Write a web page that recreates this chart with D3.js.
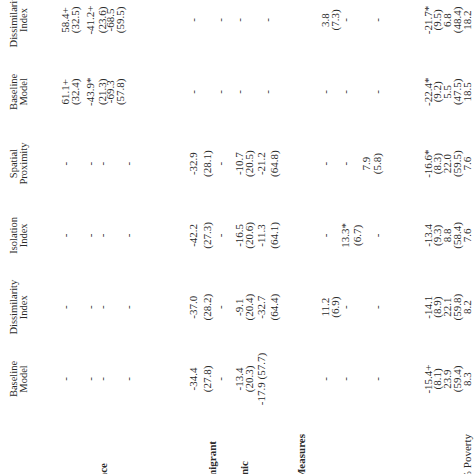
<!DOCTYPE html>
<html>
<head>
<meta charset="utf-8">
<script src="https://cdn.jsdelivr.net/npm/d3@7"></script>
<style>
  body { margin: 0; background: #fff; }
  text { font-family: "Liberation Serif", "DejaVu Serif", serif; fill: #2a2a2a; }
</style>
</head>
<body>
<svg width="474" height="474"></svg>
<script>
// table is printed sideways: columns run bottom to top, rows run left to right
var headers = [["Baseline", "Model"], ["Dissimilarity", "Index"], ["Isolation", "Index"],
    ["Spatial", "Proximity"], ["Baseline", "Model"], ["Dissimilarity", "Index"]];

// line number of each printed row, and its cells (null = empty)
var lines = [0, 1, 2.5, 3.7, 4.5, 5.5, 6.3,
    12.8, 14.2, 15.5, 17.4, 18.4, 19.6, 20.2, 20.9,
    26, 27, 28, 29.2, 30.1, 31.2,
    36.3, 37.2, 38.2, 39.2, 40.2];
var cells = [
    ["-", "-", "-", "-", "61.1+", "58.4+"],
    [null, null, null, null, "(32.4)", "(32.5)"],
    ["-", "-", "-", "-", "-43.9*", "-41.2+"],
    ["-", "-", "-", "-", "(21.3)", "(23.6)"],
    [null, null, null, null, "-69.3", "-68.5"],
    [null, null, null, null, "(57.8)", "(59.5)"],
    ["-", "-", "-", "-", null, null],
    ["-34.4", "-37.0", "-42.2", "-32.9", "-", "-"],
    ["(27.8)", "(28.2)", "(27.3)", "(28.1)", null, null],
    ["-", "-", "-", "-", "-", "-"],
    ["-13.4", "-9.1", "-16.5", "-10.7", "-", "-"],
    ["(20.3)", "(20.4)", "(20.6)", "(20.5)", null, null],
    ["-17.9  (57.7)", "-32.7", "-11.3", "-21.2", null, null],
    [null, null, null, null, "-", "-"],
    [null, "(64.4)", "(64.1)", "(64.8)", null, null],
    ["-", "11.2", "-", "-", "-", "3.8"],
    [null, "(6.9)", null, null, null, "(7.3)"],
    ["-", "-", "13.3*", "-", "-", "-"],
    [null, null, "(6.7)", null, null, null],
    [null, null, null, "7.9", null, null],
    ["-", "-", "-", "(5.8)", "-", "-"],
    ["-15.4+", "-14.1", "-13.4", "-16.6*", "-22.4*", "-21.7*"],
    ["(8.1)", "(8.9)", "(9.3)", "(8.3)", "(9.2)", "(9.5)"],
    ["23.9", "22.1", "8.8", "22.0", "5.5", "6.8"],
    ["(59.4)", "(59.8)", "(58.4)", "(59.5)", "(47.5)", "(48.4)"],
    ["8.3", "8.2", "7.6", "7.6", "18.5", "18.2"]
];

var rowLabels = ["Race", "Immigrant", "Hispanic", "Segregation Measures", "% Poverty"];
var rowLabelLines = [3.8, 14.7, 17.9, 23.6, 40.2];
var rowLabelBold = [true, true, true, true, false];

var svg = d3.select('svg');

var x = d3.scaleLinear().domain([0, 40.2]).range([65, 467]);
var y = d3.scalePoint().domain(d3.range(headers.length)).range([379, 20]);

function rotText(px, py) { return 'translate(' + px + ',' + py + ') rotate(-90)'; }

// column headers
headers.forEach(function(h, c) {
    h.forEach(function(t, k) {
        svg.append('text')
            .attr('transform', rotText(13 + k * 10, y(c)))
            .attr('text-anchor', 'middle')
            .attr('dominant-baseline', 'central')
            .style('font-size', '10.5px')
            .text(t);
    });
});

// body cells
var flat = [];
cells.forEach(function(row, r) {
    row.forEach(function(v, c) {
        if (v !== null) flat.push({ line: lines[r], col: c, text: v });
    });
});

svg.selectAll('text.cell')
    .data(flat)
    .enter().append('text')
    .attr('class', 'cell')
    .attr('transform', function(d) { return rotText(x(d.line), y(d.col)); })
    .attr('text-anchor', 'middle')
    .attr('dominant-baseline', 'central')
    .style('font-size', '11px')
    .text(function(d) { return d.text; });

// row labels, they run off the bottom edge
var labelEnd = [463, 441, 461, 434, 434];
svg.selectAll('text.lab')
    .data(rowLabels)
    .enter().append('text')
    .attr('class', 'lab')
    .attr('transform', function(d, i) { return rotText(x(rowLabelLines[i]), labelEnd[i]); })
    .attr('text-anchor', 'end')
    .attr('dominant-baseline', 'central')
    .style('font-size', '11px')
    .style('font-weight', function(d, i) { return rowLabelBold[i] ? 'bold' : 'normal'; })
    .text(function(d) { return d; });
</script>
</body>
</html>
